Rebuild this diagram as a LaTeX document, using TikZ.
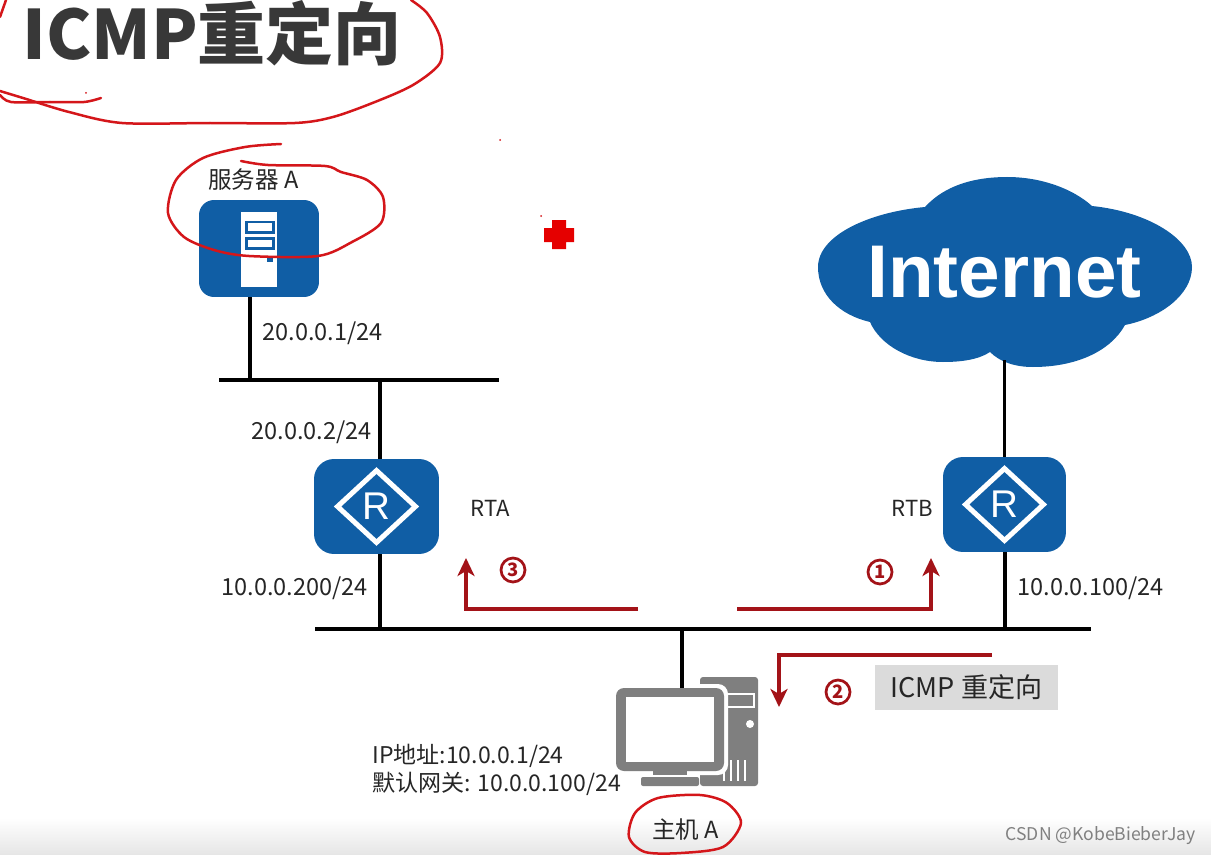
\documentclass[tikz,border=0pt]{standalone}
\usepackage{fontspec}
\setmainfont{Noto Sans CJK SC}
\newfontfamily\cloudfont{Liberation Sans}
\usetikzlibrary{arrows.meta,shapes.geometric}
\definecolor{netblue}{HTML}{105EA5}
\definecolor{inkred}{HTML}{D4161A}
\definecolor{flowred}{HTML}{A31318}
\definecolor{pcgrey}{HTML}{7F7F7F}
\tikzset{
	routerbox/.style={fill=netblue,rounded corners=0.4cm,minimum width=2.5cm,minimum height=1.9cm,inner sep=0},
	routermark/.style={diamond,draw=white,line width=0.1cm,minimum width=1.6cm,minimum height=1.48cm,inner sep=0,text=white,font=\cloudfont\fontsize{22}{22}\selectfont},
	netline/.style={line width=0.065cm,black},
	flowline/.style={line width=0.065cm,flowred,-{Stealth[length=0.36cm,width=0.34cm,inset=0.1cm]}},
	inkline/.style={line width=0.05cm,inkred,line join=round,line cap=round},
	stepmark/.style={circle,draw=flowred,line width=0.055cm,text=flowred,inner sep=0,minimum size=0.48cm,font=\bfseries\fontsize{10.5}{10.5}\selectfont},
	addr/.style={anchor=west,inner sep=0,text=black!85,font=\fontsize{13.4}{13.4}\selectfont},
	hostaddr/.style={addr,font=\fontsize{13.1}{13.1}\selectfont}
}
\begin{document}
\begin{tikzpicture}[x=0.02cm,y=-0.02cm]
	\useasboundingbox (0,0) rectangle (1211,855);
	%%%%% BACKDROP %%%%%
	\shade[top color=white,bottom color=black!10] (0,818) rectangle (1211,855);
	
	%%%%% TITLE %%%%%
	\node[anchor=west,inner sep=0,text=black!78,font=\bfseries\fontsize{38.7}{38.7}\selectfont] (title) at (22,33.5) {ICMP重定向};
	
	%%%%% DEVICES %%%%%
	\node[fill=netblue,rounded corners=0.3cm,minimum width=2.4cm,minimum height=1.94cm] (server) at (259,248.5) {};
	\fill[white] (241,212) rectangle (277,287);
	\draw[netblue,line width=0.06cm] (246,222) rectangle (273,232);
	\draw[netblue,line width=0.06cm] (246,238) rectangle (273,248);
	\fill[netblue] (267,258) rectangle (273,262);
	
	\node[routerbox] (rta) at (376.5,506.5) {};
	\node[routermark] (rmarka) at (rta) {R};
	\node[routerbox,minimum width=2.46cm] (rtb) at (1004.5,504.5) {};
	\node[routermark] (rmarkb) at (rtb) {R};
	
	\fill[netblue] (925,207) .. controls (945,185) and (975,177) .. (1007,177)
		.. controls (1040,177) and (1072,188) .. (1092,206)
		.. controls (1150,212) and (1192,240) .. (1192,267)
		.. controls (1192,295) and (1160,318) .. (1125,325)
		.. controls (1110,352) and (1075,367) .. (1033,367)
		.. controls (1015,367) and (1000,362) .. (990,352)
		.. controls (978,360) and (960,362) .. (943,362)
		.. controls (910,362) and (880,345) .. (870,322)
		.. controls (840,315) and (818,295) .. (818,267)
		.. controls (818,235) and (870,212) .. (925,207) -- cycle;
	\node[text=white,inner sep=0,minimum height=3.52cm,font=\cloudfont\bfseries\fontsize{42.5}{42.5}\selectfont] (internet) at (1004.5,272) {Internet};
	
	% host: tower first, the monitor sits on top of it
	\fill[pcgrey,rounded corners=0.06cm] (700,677) rectangle (758,786);
	\draw[white,line width=0.03cm] (727,694) rectangle (754,707);
	\fill[white] (750,724) circle (4);
	\foreach \i in {724,731,738,745}
		\draw[white,line width=0.04cm] (\i,760) -- (\i,781);
	\fill[white,rounded corners=0.2cm] (612,684) rectangle (728,775);
	\fill[pcgrey,rounded corners=0.16cm] (616,688) rectangle (724,771);
	\fill[white] (626,697) rectangle (714,762);
	\fill[pcgrey] (653,771) rectangle (687,775);
	\fill[pcgrey,rounded corners=0.04cm] (641,777) rectangle (699,786);
	\coordinate (pctop) at (682,688);
	
	%%%%% NETWORK %%%%%
	\coordinate (bustopl) at (219,380);
	\coordinate (bustopr) at (499,380);
	\coordinate (busbotl) at (315,629);
	\coordinate (busbotr) at (1091,629);
	\coordinate (tapsrv) at (250,380);
	\coordinate (tapa) at (380,380);
	\coordinate (tapb) at (380,629);
	\coordinate (tapc) at (1005,629);
	\coordinate (taphost) at (682,629);
	
	\draw[netline] (bustopl) -- (bustopr);
	\draw[netline] (busbotl) -- (busbotr);
	\draw[netline] (tapsrv) -- (tapsrv |- server.south);
	\draw[netline] (tapa) -- (tapa |- rta.north);
	\draw[netline] (tapb) -- (tapb |- rta.south);
	\draw[netline] (internet.south) -- (rtb.north);
	\draw[netline] (tapc) -- (tapc |- rtb.south);
	\draw[netline] (taphost) -- (pctop);
	
	%%%%% FLOWS %%%%%
	\coordinate (flowa) at (737,609);
	\coordinate (flowaend) at (931,558);
	\coordinate (flowb) at (992,655);
	\coordinate (flowbend) at (779,707);
	\coordinate (flowc) at (638,609);
	\coordinate (flowcend) at (466,558);
	\draw[flowline] (flowa) -| (flowaend);
	\draw[flowline] (flowb) -| (flowbend);
	\draw[flowline] (flowc) -| (flowcend);
	\node[stepmark] (stepa) at (880,572) {1};
	\node[stepmark] (stepb) at (838,692) {2};
	\node[stepmark] (stepc) at (513,570) {3};
	\node[fill=black!14,text=black!85,minimum width=3.66cm,minimum height=0.9cm,inner sep=0,font=\fontsize{15.4}{15.4}\selectfont] (redirect) at (966.5,687.5) {ICMP 重定向};
	
	%%%%% LABELS %%%%%
	\node[addr] (lblsrv) at (208,180) {服务器 A};
	\node[addr] (ipsrv) at (262,333) {20.0.0.1/24};
	\node[addr] (ipa) at (251,432) {20.0.0.2/24};
	\node[addr] (ipb) at (221,588) {10.0.0.200/24};
	\node[addr] (ipc) at (1017,588) {10.0.0.100/24};
	\node[addr,font=\fontsize{12.6}{12.6}\selectfont] (lblrta) at (470,508) {RTA};
	\node[addr,font=\fontsize{12.6}{12.6}\selectfont] (lblrtb) at (891,508) {RTB};
	\node[hostaddr] (iphost) at (372,756) {IP地址:10.0.0.1/24};
	\node[hostaddr] (gwhost) at (372,784) {默认网关: 10.0.0.100/24};
	\node[addr] (lblhost) at (652,830) {主机 A};
	\node[anchor=east,inner sep=0,text=black!50,font=\fontsize{10}{10}\selectfont] (mark) at (1196,836) {CSDN @KobeBieberJay};
	
	%%%%% RED INK %%%%%
	\draw[inkline] plot[smooth] coordinates {(411,0) (427,13) (440,37) (440,63) (413,85) (375,102) (333,117) (295,123) (210,123) (122,123) (69,112) (23,98) (0,91)};
	\draw[inkline] plot[smooth] coordinates {(0,95) (11,102) (50,102) (84,102) (101,98)};
	\draw[inkline] (0,17) -- (6,0);
	\draw[inkline] plot[smooth] coordinates {(281,144) (245,147) (203,158) (176,180) (168,213) (184,237) (214,250) (249,256) (318,256) (352,242) (381,223) (383,197) (367,180) (341,172) (325,166) (268,165) (241,161)};
	\draw[inkline] plot[smooth cycle] coordinates {(700,795) (727,803) (741,823) (723,847) (681,853) (645,852) (629,837) (635,813) (658,798)};
	\fill[inkred] (86,93) circle (1);
	\fill[inkred] (500,140) circle (1);
	\fill[inkred] (541,216) circle (1);
	\fill[red!90!black] (552,220) -- (566,220) -- (566,228) -- (574,228) -- (574,242) -- (566,242) -- (566,249) -- (552,249) -- (552,242) -- (544,242) -- (544,228) -- (552,228) -- cycle;
\end{tikzpicture}
\end{document}
